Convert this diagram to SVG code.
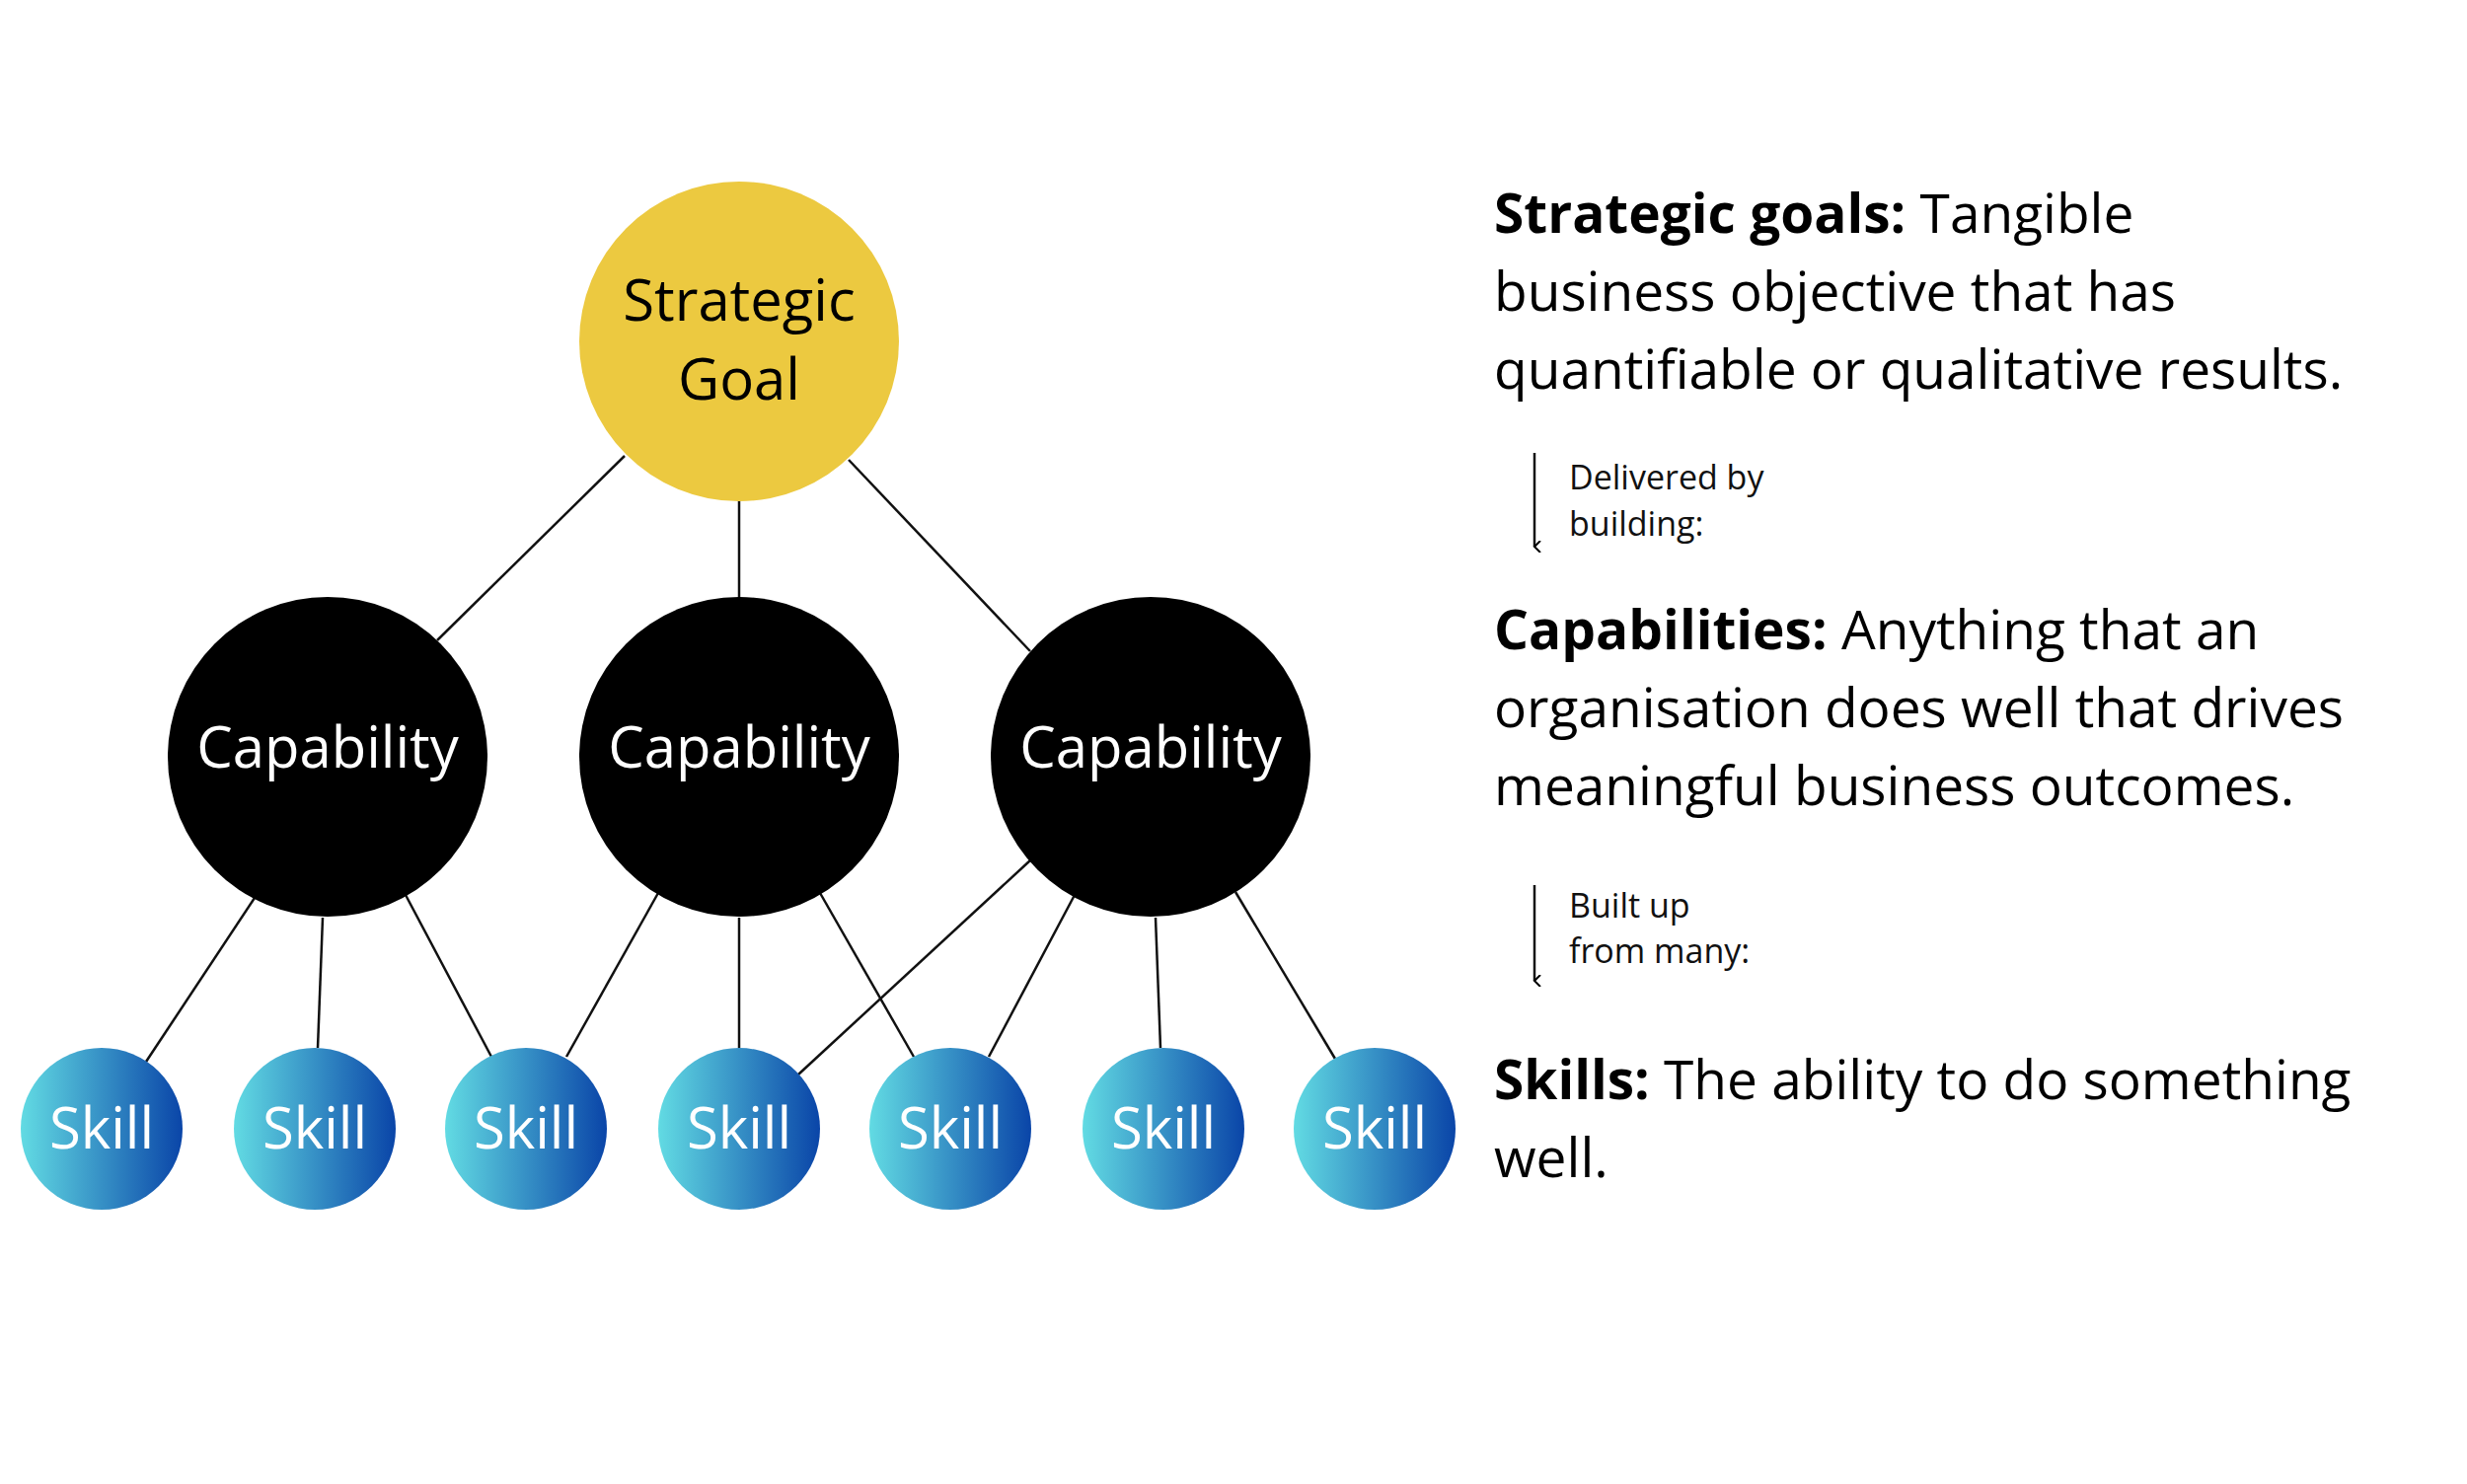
<svg xmlns="http://www.w3.org/2000/svg" width="2500" height="1504" viewBox="0 0 2500 1504">
<defs>
<linearGradient id="sg" x1="0" y1="0" x2="1" y2="0"><stop offset="0" stop-color="#62dbe3"/><stop offset="1" stop-color="#0a45a8"/></linearGradient>
<marker id="ah" viewBox="0 0 12 12" refX="6" refY="10" markerWidth="12" markerHeight="12" markerUnits="userSpaceOnUse" orient="auto"><path d="M0,4 L6,10 L12,4" fill="none" stroke="#000" stroke-width="2"/></marker>
</defs>
<style>
text{font-family:"Open Sans","Noto Sans",sans-serif}
.n{font-size:58px;text-anchor:middle}
.w{fill:#fff}
.d{font-size:55px;fill:#000}
.s{font-size:34px;fill:#111}
.c line{stroke:#111;stroke-width:2.5}
</style>
<rect width="2500" height="1504" fill="#fff"/>
<g class="c" id="connectors">
<line x1="633" y1="462" x2="443" y2="649"/>
<line x1="749" y1="507" x2="749" y2="606"/>
<line x1="860" y1="466" x2="1044" y2="660"/>
<line x1="258" y1="910" x2="148" y2="1076"/>
<line x1="327" y1="930" x2="322" y2="1062"/>
<line x1="411" y1="907" x2="498" y2="1071"/>
<line x1="667" y1="905" x2="574" y2="1071"/>
<line x1="749" y1="930" x2="749" y2="1062"/>
<line x1="831" y1="905" x2="926" y2="1071"/>
<line x1="1044" y1="872" x2="809" y2="1089"/>
<line x1="1089" y1="907" x2="1002" y2="1071"/>
<line x1="1171" y1="930" x2="1176" y2="1062"/>
<line x1="1252" y1="904" x2="1353" y2="1073"/>
<line x1="1555" y1="459" x2="1555" y2="554" marker-end="url(#ah)"/>
<line x1="1555" y1="897" x2="1555" y2="994" marker-end="url(#ah)"/>
</g>
<g id="goal"><circle cx="749" cy="346" r="162" fill="#ecc940"/><text class="n" x="749" y="325">Strategic</text><text class="n" x="749" y="405">Goal</text></g>
<g id="cap1"><circle cx="332" cy="767" r="162" fill="#000"/><text class="n w" x="332" y="778">Capability</text></g>
<g id="cap2"><circle cx="749" cy="767" r="162" fill="#000"/><text class="n w" x="749" y="778">Capability</text></g>
<g id="cap3"><circle cx="1166" cy="767" r="162" fill="#000"/><text class="n w" x="1166" y="778">Capability</text></g>
<g id="skill1"><circle cx="103" cy="1144" r="82" fill="url(#sg)"/><text class="n w" x="103" y="1164">Skill</text></g>
<g id="skill2"><circle cx="319" cy="1144" r="82" fill="url(#sg)"/><text class="n w" x="319" y="1164">Skill</text></g>
<g id="skill3"><circle cx="533" cy="1144" r="82" fill="url(#sg)"/><text class="n w" x="533" y="1164">Skill</text></g>
<g id="skill4"><circle cx="749" cy="1144" r="82" fill="url(#sg)"/><text class="n w" x="749" y="1164">Skill</text></g>
<g id="skill5"><circle cx="963" cy="1144" r="82" fill="url(#sg)"/><text class="n w" x="963" y="1164">Skill</text></g>
<g id="skill6"><circle cx="1179" cy="1144" r="82" fill="url(#sg)"/><text class="n w" x="1179" y="1164">Skill</text></g>
<g id="skill7"><circle cx="1393" cy="1144" r="82" fill="url(#sg)"/><text class="n w" x="1393" y="1164">Skill</text></g>
<g id="desc">
<text class="d" x="1514" y="236"><tspan font-weight="bold">Strategic goals:</tspan> Tangible</text>
<text class="d" x="1514" y="315">business objective that has</text>
<text class="d" x="1514" y="394">quantifiable or qualitative results.</text>
<text class="s" x="1590" y="496">Delivered by</text>
<text class="s" x="1590" y="543">building:</text>
<text class="d" x="1514" y="658"><tspan font-weight="bold">Capabilities:</tspan> Anything that an</text>
<text class="d" x="1514" y="737">organisation does well that drives</text>
<text class="d" x="1514" y="816">meaningful business outcomes.</text>
<text class="s" x="1590" y="930">Built up</text>
<text class="s" x="1590" y="976">from many:</text>
<text class="d" x="1514" y="1114"><tspan font-weight="bold">Skills:</tspan> The ability to do something</text>
<text class="d" x="1514" y="1193">well.</text>
</g>
</svg>
